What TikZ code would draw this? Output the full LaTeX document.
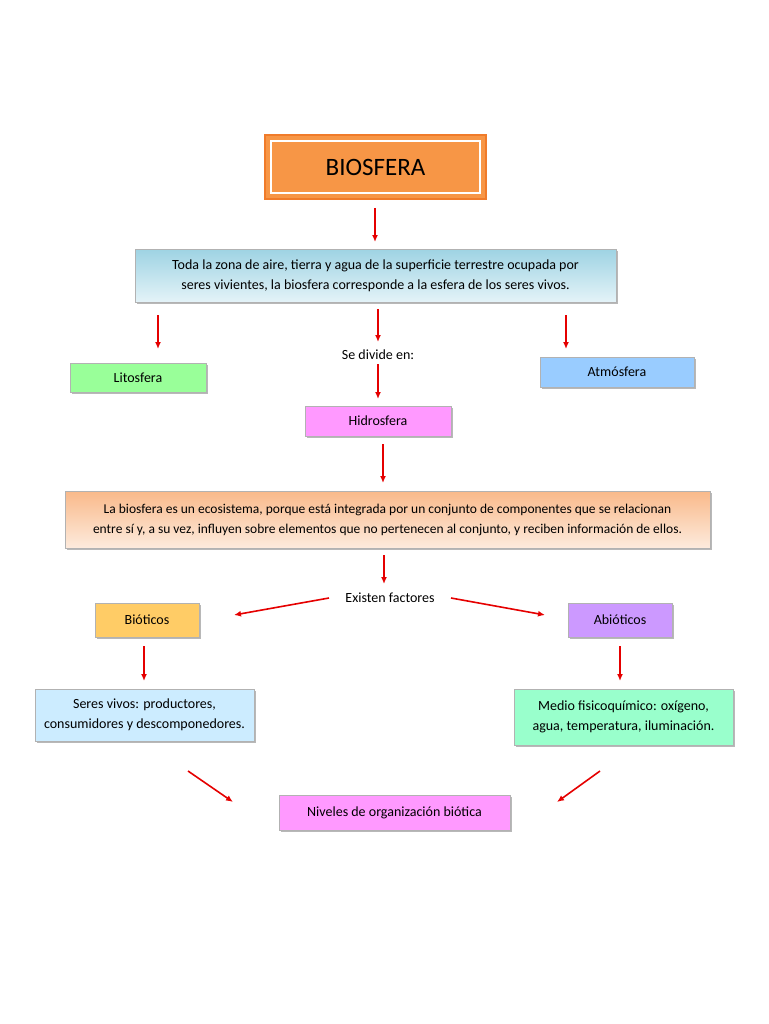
\documentclass[tikz,border=0pt]{standalone}
\usepackage{fontspec}
\setmainfont{Carlito}
\usetikzlibrary{shadows,arrows.meta}
\definecolor{ttl}{HTML}{F79646}
\definecolor{ttlb}{HTML}{F07B2A}
\definecolor{lito}{HTML}{99FF99}
\definecolor{atmo}{HTML}{99CCFF}
\definecolor{hidro}{HTML}{FF99FF}
\definecolor{bio}{HTML}{FFCC66}
\definecolor{abio}{HTML}{CC99FF}
\definecolor{sv}{HTML}{CCECFF}
\definecolor{mf}{HTML}{99FFCC}
\definecolor{blueT}{HTML}{E4F3F8}
\definecolor{blueB}{HTML}{9ED3E3}
\definecolor{orT}{HTML}{F9B98A}
\definecolor{orB}{HTML}{FDEBDD}
\begin{document}
\begin{tikzpicture}[x=1pt,y=-1pt,
 box/.style={draw=gray!60,line width=0.4pt,align=center,font=\fontsize{14}{20}\selectfont,inner sep=2pt,drop shadow={shadow xshift=2pt,shadow yshift=-2pt,fill=gray!70,opacity=0.8}},
 arr/.style={draw=red!90!black,line width=1.6pt,-{Latex[length=7pt,width=6pt]}},
 lbl/.style={font=\fontsize{14}{16}\selectfont}]
\useasboundingbox (0,0) rectangle (768,1024);
\node[draw=ttlb,fill=ttl,line width=2pt,minimum width=221pt,minimum height=64pt,font=\fontsize{25}{28}\selectfont] (bio) at (375.5,167) {BIOSFERA};
\draw[white,line width=1.2pt] (271,141) rectangle (480,193);
\node[box,top color=blueB,bottom color=blueT,minimum width=481pt,minimum height=53pt] (def) at (375.5,275.5) {Toda la zona de aire, tierra y agua de la superficie terrestre ocupada por\\ seres vivientes, la biosfera corresponde a la esfera de los seres vivos.};
\node[box,fill=lito,minimum width=136pt,minimum height=29pt] (lit) at (138,377.5) {Litosfera};
\node[box,fill=atmo,minimum width=154pt,minimum height=30pt] (atm) at (617,372) {Atmósfera};
\node[box,fill=hidro,minimum width=146pt,minimum height=30pt] (hid) at (378,421) {Hidrosfera};
\node[lbl] (div) at (378,355) {Se divide en:};
\node[box,top color=orT,bottom color=orB,minimum width=645pt,minimum height=57pt,font=\fontsize{13.5}{20}\selectfont] (eco) at (387.5,519.5) {La biosfera es un ecosistema, porque está integrada por un conjunto de componentes que se relacionan\\ entre sí y, a su vez, influyen sobre elementos que no pertenecen al conjunto, y reciben información de ellos.};
\node[lbl] (ext) at (390,598) {Existen factores};
\node[box,fill=bio,minimum width=104pt,minimum height=34pt] (bt) at (147,620) {Bióticos};
\node[box,fill=abio,minimum width=104pt,minimum height=34pt] (ab) at (620,620) {Abióticos};
\node[box,fill=sv,minimum width=219pt,minimum height=52pt] (svn) at (144.5,715) {Seres vivos: productores,\\ consumidores y descomponedores.};
\node[box,fill=mf,minimum width=219pt,minimum height=56pt] (mfn) at (623.5,717) {Medio fisicoquímico: oxígeno,\\ agua, temperatura, iluminación.};
\node[box,fill=hidro,minimum width=231pt,minimum height=35pt] (niv) at (394.5,812.5) {Niveles de organización biótica};
\coordinate (a1) at (375,208); \coordinate (a1e) at (375,242);
\draw[arr] (a1)--(a1e);
\coordinate (a2) at (158,315); \coordinate (a2e) at (158,349);
\draw[arr] (a2)--(a2e);
\coordinate (a3) at (378,309); \coordinate (a3e) at (378,342);
\draw[arr] (a3)--(a3e);
\coordinate (a4) at (566,315); \coordinate (a4e) at (566,349);
\draw[arr] (a4)--(a4e);
\coordinate (a5) at (378,364); \coordinate (a5e) at (378,399);
\draw[arr] (a5)--(a5e);
\coordinate (a6) at (383,444); \coordinate (a6e) at (383,483);
\draw[arr] (a6)--(a6e);
\coordinate (a7) at (384,555); \coordinate (a7e) at (384,584);
\draw[arr] (a7)--(a7e);
\coordinate (c1) at (329,598); \coordinate (c1e) at (234,615);
\draw[arr] (c1)--(c1e);
\coordinate (c2) at (451,598); \coordinate (c2e) at (545,615);
\draw[arr] (c2)--(c2e);
\coordinate (a8) at (144,646); \coordinate (a8e) at (144,681);
\draw[arr] (a8)--(a8e);
\coordinate (a9) at (620,646); \coordinate (a9e) at (620,681);
\draw[arr] (a9)--(a9e);
\coordinate (b1) at (188,771); \coordinate (b1e) at (233,802);
\draw[arr] (b1)--(b1e);
\coordinate (b2) at (600,771); \coordinate (b2e) at (557,802);
\draw[arr] (b2)--(b2e);
\end{tikzpicture}
\end{document}
